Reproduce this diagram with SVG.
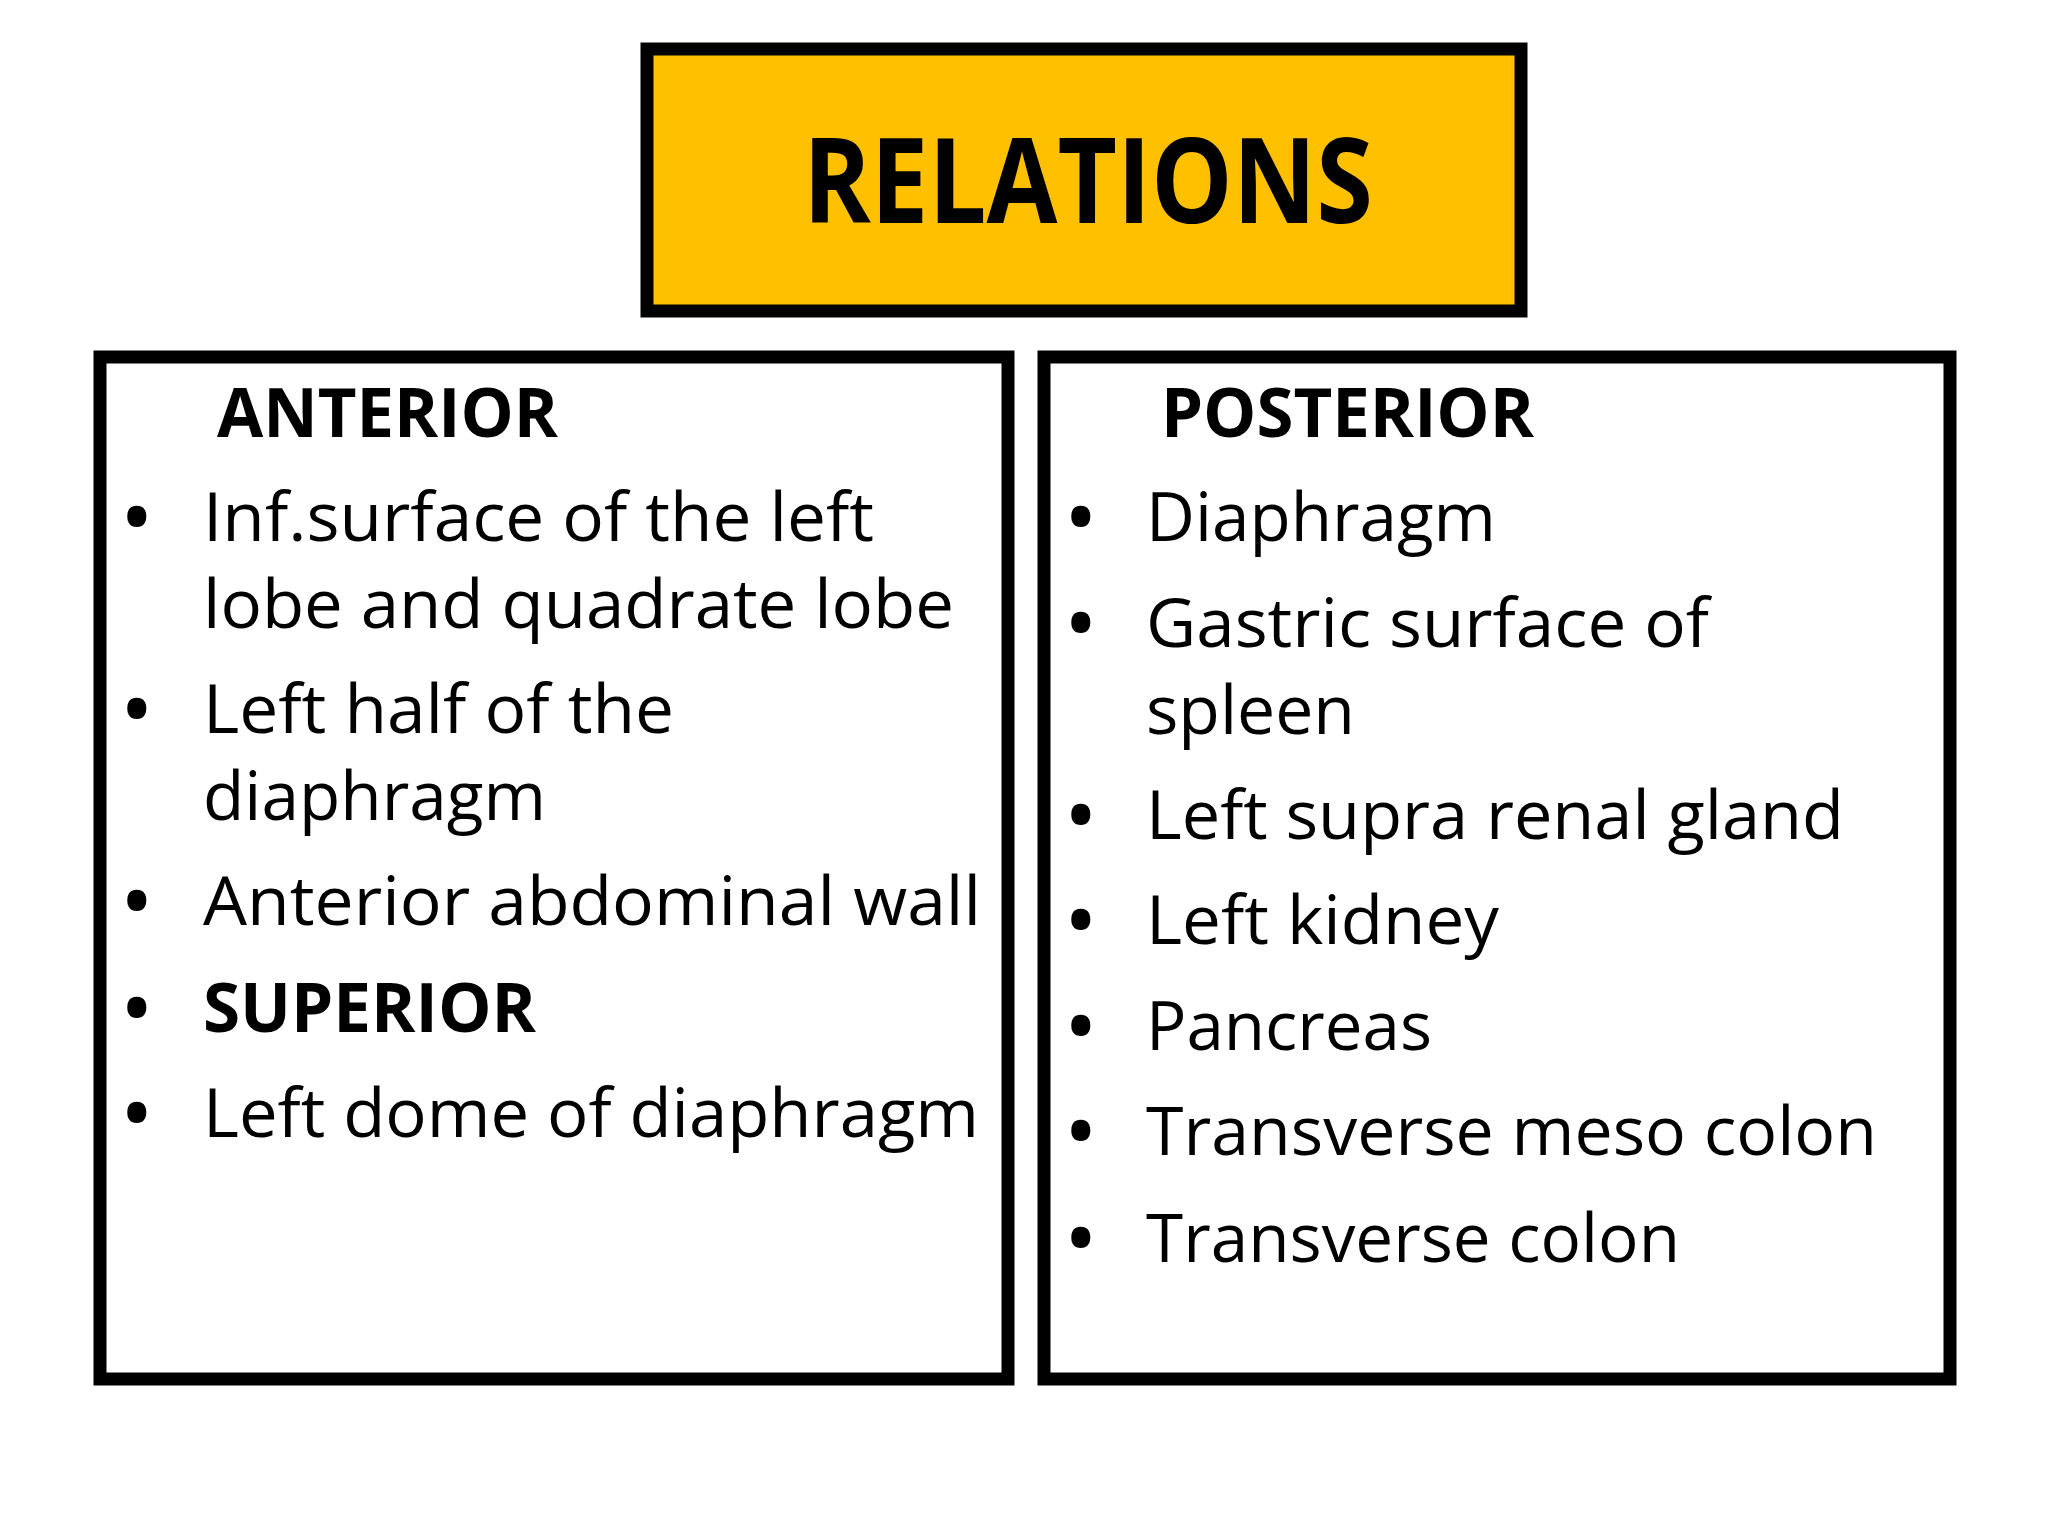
<svg xmlns="http://www.w3.org/2000/svg" width="2048" height="1536" viewBox="0 0 2048 1536">
<style>
.b{stroke:#000;stroke-width:13}
text{font-family:"Open Sans","Liberation Sans",sans-serif;fill:#000}
.t{font-size:68px}
.h{font-size:68px;font-weight:bold}
.d{font-size:68px;font-weight:bold}
</style>
<rect width="2048" height="1536" fill="#fff"/>
<g id="title"><rect x="647" y="49" width="874" height="262" fill="#FFC000" class="b"/>
<text x="1088" y="223" text-anchor="middle" font-size="118" font-weight="bold" textLength="570" lengthAdjust="spacingAndGlyphs">RELATIONS</text></g>
<g id="anterior"><rect x="100" y="357" width="908" height="1022" fill="none" class="b"/>
<text class="h" x="217" y="437" textLength="341" lengthAdjust="spacingAndGlyphs">ANTERIOR</text>
<g class="t">
<text class="d" x="124" y="541">•</text><text x="203" y="541" textLength="671" lengthAdjust="spacingAndGlyphs">Inf.surface of the left</text>
<text x="203" y="628" textLength="751" lengthAdjust="spacingAndGlyphs">lobe and quadrate lobe</text>
<text class="d" x="124" y="733">•</text><text x="203" y="733" textLength="471" lengthAdjust="spacingAndGlyphs">Left half of the</text>
<text x="203" y="820" textLength="343" lengthAdjust="spacingAndGlyphs">diaphragm</text>
<text class="d" x="124" y="925">•</text><text x="203" y="925" textLength="778" lengthAdjust="spacingAndGlyphs">Anterior abdominal wall</text>
<text class="d" x="124" y="1032">•</text><text class="h" x="203" y="1032" textLength="333" lengthAdjust="spacingAndGlyphs">SUPERIOR</text>
<text class="d" x="124" y="1137">•</text><text x="203" y="1137" textLength="776" lengthAdjust="spacingAndGlyphs">Left dome of diaphragm</text>
</g></g>
<g id="posterior"><rect x="1044" y="357" width="906" height="1022" fill="none" class="b"/>
<text class="h" x="1161" y="437" textLength="373" lengthAdjust="spacingAndGlyphs">POSTERIOR</text>
<g class="t">
<text class="d" x="1068" y="541">•</text><text x="1146" y="541" textLength="350" lengthAdjust="spacingAndGlyphs">Diaphragm</text>
<text class="d" x="1068" y="647">•</text><text x="1146" y="647" textLength="563" lengthAdjust="spacingAndGlyphs">Gastric surface of</text>
<text x="1146" y="734" textLength="209" lengthAdjust="spacingAndGlyphs">spleen</text>
<text class="d" x="1068" y="839">•</text><text x="1146" y="839" textLength="698" lengthAdjust="spacingAndGlyphs">Left supra renal gland</text>
<text class="d" x="1068" y="944">•</text><text x="1146" y="944" textLength="353" lengthAdjust="spacingAndGlyphs">Left kidney</text>
<text class="d" x="1068" y="1050">•</text><text x="1146" y="1050" textLength="286" lengthAdjust="spacingAndGlyphs">Pancreas</text>
<text class="d" x="1068" y="1155">•</text><text x="1146" y="1155" textLength="731" lengthAdjust="spacingAndGlyphs">Transverse meso colon</text>
<text class="d" x="1068" y="1262">•</text><text x="1146" y="1262" textLength="534" lengthAdjust="spacingAndGlyphs">Transverse colon</text>
</g></g>
</svg>
